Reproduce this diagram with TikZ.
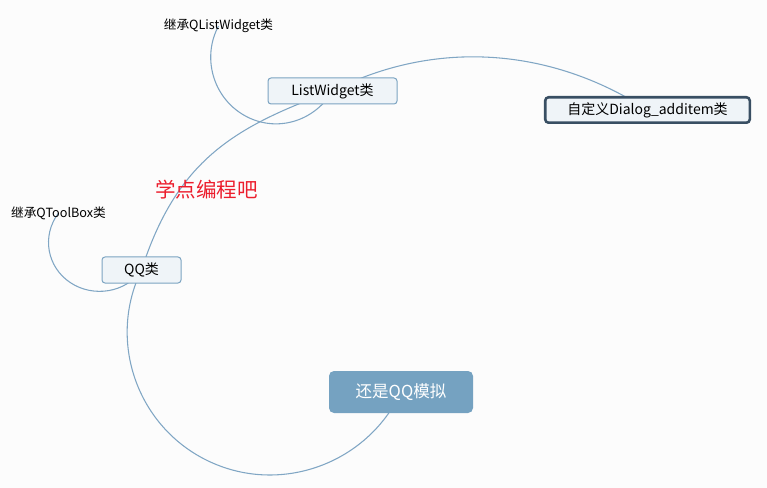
\documentclass[tikz,border=0pt]{standalone}
\usepackage{fontspec}
\setmainfont{Noto Sans CJK SC}
\usetikzlibrary{backgrounds}
\definecolor{bg}{RGB}{252,252,252}
\definecolor{edgecol}{RGB}{128,166,196}
\definecolor{rootfill}{RGB}{117,162,193}
\definecolor{boxfill}{RGB}{239,244,248}
\definecolor{boxline}{RGB}{124,164,194}
\definecolor{dlgline}{RGB}{57,79,99}
\definecolor{notecol}{RGB}{236,30,45}
\begin{document}
\begin{tikzpicture}[x=0.75pt,y=-0.75pt,
  rootnode/.style={fill=rootfill, rounded corners=3.75pt, minimum width=108pt, minimum height=31.5pt, inner sep=0pt, text=white, font=\fontsize{12.4}{14}\selectfont},
  subnode/.style={draw=boxline, fill=boxfill, line width=0.75pt, rounded corners=2.25pt, minimum height=19.5pt, inner sep=0pt, font=\fontsize{10.5}{12}\selectfont},
  dlgnode/.style={draw=dlgline, fill=boxfill, line width=1.9pt, rounded corners=2.5pt, minimum width=153.4pt, minimum height=19.1pt, inner sep=0pt, font=\fontsize{10.5}{12}\selectfont},
  leafnode/.style={inner sep=0pt, font=\fontsize{9.5}{11}\selectfont},
  notenode/.style={inner sep=0pt, text=notecol, font=\fontsize{15.4}{17}\selectfont},
  link/.style={draw=edgecol, line width=0.8pt}
]
\useasboundingbox (0,0) rectangle (767,488);

\node[rootnode] (root) at (401,392) {还是QQ模拟};
\node[subnode, minimum width=59.25pt] (qq) at (141.5,270) {QQ类};
\node[subnode, minimum width=96.75pt] (lw) at (332.5,91) {ListWidget类};
\node[dlgnode] (dlg) at (647.5,110) {自定义Dialog\_additem类};
\node[leafnode] (t1) at (218.5,26) {继承QListWidget类};
\node[leafnode] (t2) at (58.5,213) {继承QToolBox类};
\node[notenode] (note) at (206.5,190) {学点编程吧};

\coordinate (m1) at (209.1,461.4);
\coordinate (m2) at (244,115.2);
\coordinate (m3) at (70.3,282.6);

\begin{pgfonlayer}{background}
\fill[bg] (0,0) rectangle (767,488);
\draw[link] (root.center) .. controls (367,463.7) and (280.9,495.2) .. (m1)
  .. controls (137.3,427.6) and (106.8,341.3) .. (qq.center);
\draw[link] (qq.center) .. controls (176.8,160.4) and (233.8,126.9) .. (lw.center);
\draw[link] (lw.center) .. controls (435,38.8) and (551.1,47.4) .. (dlg.center);
\draw[link] (lw.center) .. controls (314.1,122) and (275.3,133.3) .. (m2)
  .. controls (212.7,97.2) and (201.8,57.2) .. (t1.center);
\draw[link] (qq.center) .. controls (126,292.8) and (93.3,297.9) .. (m3)
  .. controls (47.3,267.3) and (41.1,236.3) .. (t2.center);
\end{pgfonlayer}
\end{tikzpicture}
\end{document}
